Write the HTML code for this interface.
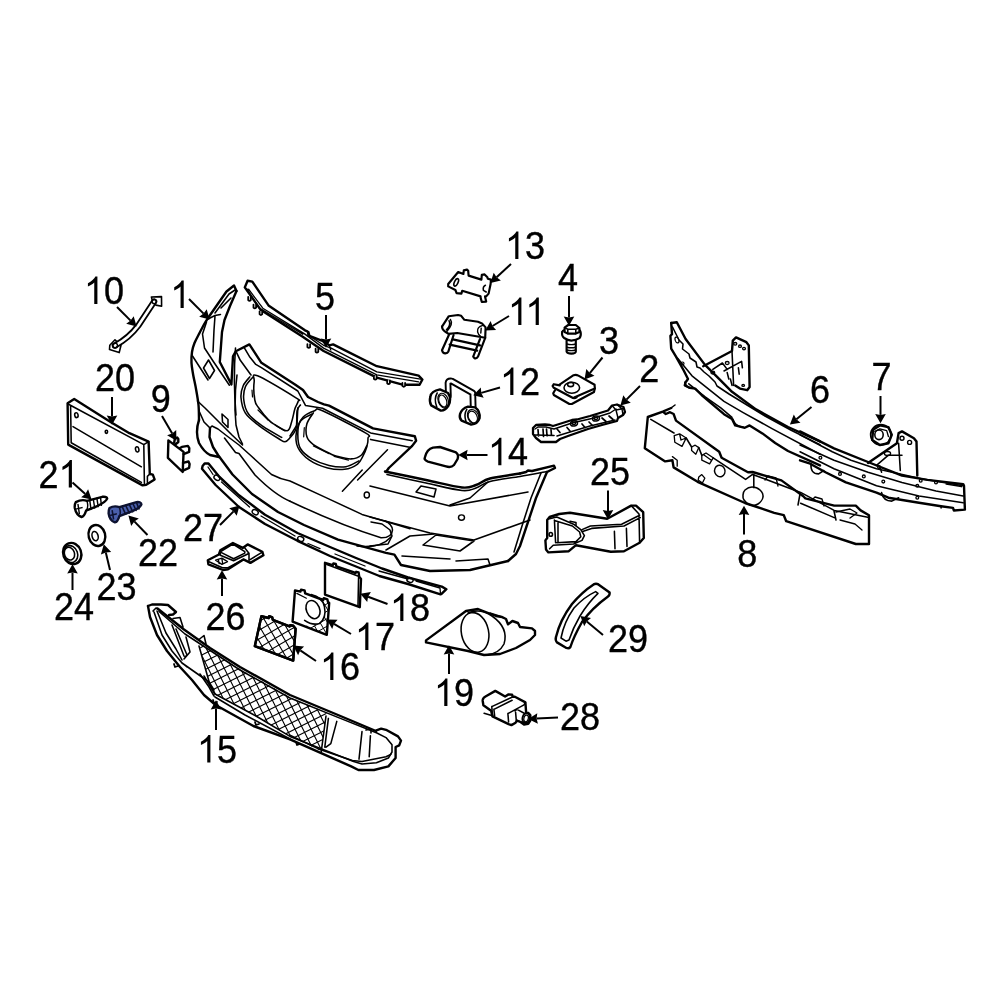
<!DOCTYPE html><html><head><meta charset="utf-8"><style>
html,body{margin:0;padding:0;background:#fff;width:1000px;height:1000px;overflow:hidden}
svg{display:block;filter:blur(0.35px)}
text{font-family:"Liberation Sans",sans-serif;font-size:36px;fill:#000;stroke:#000;stroke-width:0.35px}
</style></head><body>
<svg width="1000" height="1000" viewBox="0 0 1000 1000">
<g fill="none" stroke="#000" stroke-width="1.6" stroke-linejoin="round" stroke-linecap="round">
<path d="M 151.4 297.0 L 161.5 296.6 L 161.6 306.2 L 156.0 305.1 L 153.2 303.6 Z" />
<path d="M 109.8 345.3 L 115.0 339.8 L 121.0 345.3 L 119.2 352.6 L 109.5 349.5 Z" />
<path d="M 154.2 301.6 L 138.2 325.7 Q 129.4 337.6 115.0 345.6" stroke-width="6.24"/>
<path d="M 154.2 301.6 L 138.2 325.7 Q 129.4 337.6 115.0 345.6" stroke="#fff" stroke-width="2.64"/>
<ellipse cx="154.2" cy="301.6" rx="2.1" ry="2.1" transform="rotate(0 154.2 301.6)" stroke-width="1.44"/>
<ellipse cx="115.0" cy="345.6" rx="2.5" ry="2.5" transform="rotate(0 115.0 345.6)" stroke-width="1.44"/>
<path d="M 448.2 284.0 L 458.2 272.0 L 463.4 274.0 L 463.8 270.4 L 467.0 269.6 L 468.2 270.8 L 468.6 275.6 L 481.4 279.6 L 481.8 274.8 L 484.6 274.4 L 487.4 277.2 L 487.8 278.8 L 491.0 279.6 L 490.6 284.0 L 488.6 293.6 L 486.2 296.4 L 485.0 296.4 L 486.2 301.6 L 481.8 302.0 L 480.6 297.6 L 480.6 296.4 L 462.2 290.8 L 461.4 293.6 L 456.6 293.2 L 455.4 290.0 L 448.2 286.4 Z" stroke-width="2.16"/>
<ellipse cx="456.2" cy="282.4" rx="1.8" ry="4.0" transform="rotate(25 456.2 282.4)" stroke-width="1.56"/>
<path d="M 485.4 285.2 Q 482.6 286.4 483.4 290.4 L 486.2 292.0" stroke-width="1.56"/>
<path d="M 442.0 326.6 L 448.8 316.2 L 458.0 315.0 L 461.2 315.8 L 464.4 319.8 L 478.0 321.8 L 482.0 323.4 L 485.6 327.4 L 485.2 337.8 L 478.0 356.6 Q 476.8 359.0 474.4 358.2 L 473.2 356.6 L 480.0 339.0" stroke-width="2.16"/>
<path d="M 442.0 326.6 Q 442.0 330.6 448.4 333.8 L 457.2 333.0 L 485.2 337.8" stroke-width="2.16"/>
<path d="M 449.2 334.2 L 442.0 350.2 Q 442.8 353.4 445.2 353.4 Q 447.6 353.0 448.4 351.4 L 453.6 335.0" stroke-width="2.16"/>
<path d="M 452.8 339.4 L 480.0 345.4 M 449.6 344.6 L 477.2 350.6" stroke-width="2.16"/>
<path d="M 450.4 319.4 Q 453.6 324.2 446.8 331.4 M 449.0 320.6 Q 451.2 325.0 446.4 329.8" stroke-width="1.44"/>
<path d="M 482.8 325.4 Q 476.8 327.0 477.6 331.8 Q 478.4 335.0 480.4 336.2 M 481.2 328.2 L 480.8 333.0" stroke-width="1.44"/>
<path d="M 562.2 332.0 Q 561.4 336.0 564.2 338.0 Q 567.8 340.4 571.4 340.6 Q 576.2 340.4 579.4 338.2 Q 581.4 336.0 580.6 332.0 Q 580.2 330.4 579.4 330.0" stroke-width="2.16"/>
<path d="M 562.2 332.0 Q 562.6 330.4 564.6 330.0" stroke-width="2.16"/>
<path d="M 564.6 327.6 L 568.2 325.0 L 575.8 325.0 L 579.4 328.0 L 579.4 332.0 L 575.8 333.6 L 567.8 333.6 L 564.6 332.0 Z" stroke-width="2.16" fill="#fff"/>
<path d="M 564.6 327.6 L 567.8 329.2 L 575.8 329.2 L 579.4 328.0 M 567.8 329.2 L 567.8 333.6 M 575.8 329.2 L 575.8 333.6" stroke-width="1.56"/>
<path d="M 566.6 340.6 L 566.6 351.6 Q 567.4 353.6 571.4 353.6 Q 575.8 353.6 575.8 351.6 L 575.8 340.6" stroke-width="2.16"/>
<path d="M 566.8 344.0 Q 571.4 345.2 575.6 344.0 M 566.8 347.2 Q 571.4 348.4 575.6 347.2 M 566.8 350.0 Q 571.4 351.2 575.6 350.0" stroke-width="1.44"/>
<path d="M 559.2 384.8 L 573.6 375.2 Q 576.0 374.4 578.4 375.6 L 594.6 384.8 L 594.8 388.4 L 574.2 397.4" stroke-width="2.16"/>
<path d="M 552.6 386.0 L 553.8 384.2 L 559.8 385.4 M 552.6 386.0 L 553.8 387.8 L 573.0 398.0 Q 574.8 398.4 576.6 397.4" stroke-width="2.16"/>
<path d="M 555.0 390.2 L 553.2 393.2 L 553.8 395.0 L 569.4 404.0 L 571.8 404.0 L 594.0 392.0 L 594.8 388.4" stroke-width="2.16"/>
<ellipse cx="571.8" cy="387.8" rx="7.8" ry="5.4" transform="rotate(0 571.8 387.8)" stroke-width="1.56"/>
<ellipse cx="570.6" cy="384.4" rx="3.0" ry="2.2" transform="rotate(0 570.6 384.4)" stroke-width="1.56"/>
<path d="M 533.0 428.0 L 536.0 425.0 L 545.0 424.5 L 550.0 425.0 L 553.0 426.0 L 572.0 420.0 L 577.0 419.5 L 590.0 416.0 L 608.0 410.5 L 612.0 405.5 L 617.0 404.5 L 623.5 407.0 L 625.0 412.0 L 623.0 415.0 L 618.0 418.0 L 617.0 421.0 L 602.0 425.0 L 588.0 429.0 L 568.0 436.0 L 560.0 439.0 L 556.0 442.0 L 541.0 442.0 L 536.0 438.0 L 533.0 434.0 Z" stroke-width="2.28"/>
<path d="M 535.0 429.0 L 538.0 427.0 L 546.0 427.0 L 554.0 429.0 L 572.0 423.0 L 594.0 418.0 L 610.0 413.0 L 616.0 409.0 M 557.0 436.0 L 570.0 432.0 L 590.0 426.0 L 615.0 420.0 M 612.0 405.5 L 616.0 410.0 L 618.0 418.0 M 617.0 404.5 L 622.0 409.0 L 623.0 415.0 M 616.0 410.0 L 623.5 408.5" stroke-width="1.44"/>
<path d="M 557.0 429.0 L 560.0 432.5 M 567.0 427.5 L 570.0 431.0 M 582.0 424.0 L 585.0 427.5 M 589.0 422.0 L 592.5 425.5 M 602.0 418.0 L 606.0 421.5 M 609.0 416.0 L 613.0 419.5 M 538.0 429.5 L 538.5 436.0 M 543.0 429.0 L 543.5 436.5 M 546.5 429.0 L 547.0 436.0 M 551.0 429.5 L 551.5 435.5 M 535.0 435.0 L 554.0 435.5" stroke-width="1.68"/>
<ellipse cx="574.0" cy="423.5" rx="3.5" ry="2.5" transform="rotate(-10 574.0 423.5)" stroke-width="1.44"/>
<ellipse cx="574.0" cy="423.5" rx="1.6" ry="1.1" transform="rotate(-10 574.0 423.5)" stroke-width="1.32"/>
<ellipse cx="596.0" cy="418.5" rx="3.5" ry="2.5" transform="rotate(-10 596.0 418.5)" stroke-width="1.44"/>
<ellipse cx="596.0" cy="418.5" rx="1.6" ry="1.1" transform="rotate(-10 596.0 418.5)" stroke-width="1.32"/>
<path d="M 236.5 291.0 L 234.0 285.5 L 226.5 291.5 L 208.0 318.0" stroke-width="2.4"/>
<path d="M208.0 318.0 C207.3 319.1 205.4 322.0 204.0 324.5 C202.6 327.0 201.1 329.9 199.5 333.0 C197.9 336.1 195.8 339.8 194.5 343.0 C193.2 346.2 192.5 348.7 192.0 352.0 C191.5 355.3 191.3 359.2 191.5 363.0 C191.7 366.8 192.5 370.5 193.2 375.0 C194.0 379.5 195.4 385.0 196.2 390.0 C197.1 395.0 198.0 400.0 198.5 405.0 C199.0 410.0 198.9 417.5 199.0 420.0" stroke-width="2.4"/>
<path d="M 199.0 420.0 Q 195.0 432.0 199.0 443.0 Q 204.0 452.0 210.0 455.0 L 219.0 457.0" stroke-width="2.4"/>
<path d="M 236.5 291.0 L 230.0 306.0 L 224.5 320.0 L 222.0 332.0 L 219.8 362.0 L 231.4 384.4 L 233.0 356.4 L 235.8 351.2 L 249.4 344.4 L 261.4 362.8 L 295.0 384.4 L 303.0 390.0 L 308.0 397.0 L 318.0 402.0 L 324.0 404.3 L 329.0 405.6 L 373.0 428.4 L 414.8 436.2 L 416.1 440.7 L 412.2 445.9 L 388.8 468.0 L 386.0 472.0" stroke-width="2.4"/>
<path d="M 215.0 313.0 L 229.0 294.0 L 235.0 290.0 M 221.0 308.0 L 231.0 298.0 M 208.0 319.0 L 215.0 315.5 L 220.5 314.5 M 206.5 322.0 L 202.5 334.0 L 204.5 348.0 L 213.0 361.0 L 229.4 385.2 M 215.0 316.0 L 214.0 330.0 L 213.0 352.0 M 192.5 356.0 L 208.0 380.0" stroke-width="1.56"/>
<path d="M 203.5 368.0 L 208.5 360.0 L 214.5 370.5 L 209.5 378.5 Z" stroke-width="1.56"/>
<path d="M 222.0 414.0 L 228.0 419.5 L 228.0 427.5 L 222.5 422.0 Z" stroke-width="1.56"/>
<path d="M 197.5 401.0 L 205.0 408.0 L 214.0 417.0 L 223.0 426.0 L 232.0 435.0 L 242.5 445.0 M 199.5 412.0 L 204.0 422.0 L 210.0 428.0" stroke-width="1.56"/>
<path d="M 244.2 347.6 L 249.4 356.4 L 255.8 364.4 L 261.4 367.6 L 297.8 391.0 L 305.6 405.6 L 322.5 408.2 L 370.6 432.9 L 412.2 440.7" stroke-width="1.56"/>
<path d="M 236.6 352.6 L 240.3 360.3 L 251.0 375.0 M 370.6 439.4 L 409.6 447.2" stroke-width="1.56"/>
<path d="M 237.0 375.0 L 235.5 390.0 L 235.0 410.0 L 236.0 425.0 L 239.0 437.0 L 242.5 444.0" stroke-width="1.56"/>
<path d="M 235.5 348.0 Q 233.0 380.0 236.0 415.0" stroke-width="1.56"/>
<path d="M249.8 376.9 C248.7 378.4 244.7 382.2 243.2 385.7 C241.7 389.2 240.6 393.2 241.0 397.8 C241.4 402.4 242.5 408.6 245.4 413.2 C248.3 417.8 253.1 421.1 258.6 425.3 C264.1 429.5 274.0 435.8 278.4 438.5 C282.8 441.2 283.2 441.8 285.0 441.8 C286.8 441.8 287.6 440.7 289.4 438.5 C291.2 436.3 294.7 433.2 296.0 428.6 C297.3 424.0 296.4 414.9 297.1 411.0 C297.8 407.1 299.8 406.0 300.4 405.0" stroke-width="1.56"/>
<path d="M253.1 376.9 C251.8 378.5 247.0 382.9 245.4 386.8 C243.8 390.7 243.2 395.4 243.8 400.0 C244.3 404.6 245.5 409.9 248.7 414.3 C251.9 418.7 257.5 422.5 263.0 426.4 C268.5 430.2 278.6 435.6 281.7 437.4" stroke-width="1.56"/>
<path d="M257.5 375.8 C250.5 373.1 254.7 377.3 254.2 381.3 C253.7 385.3 254.0 395.6 254.8 400.0 C255.5 404.4 256.3 404.4 258.6 407.7 C260.9 411.0 265.9 417.1 268.5 419.8 C271.1 422.6 270.9 422.4 274.0 424.2 C277.1 426.0 284.3 431.2 287.2 430.8 C290.1 430.4 290.3 425.7 291.6 422.0 C292.9 418.3 293.8 412.3 294.9 408.8 C296.0 405.3 298.0 402.9 298.2 401.1 C298.4 399.3 302.8 402.0 296.0 397.8 C289.2 393.6 264.5 378.6 257.5 375.8 Z" stroke-width="1.56"/>
<path d="M 252.0 390.0 L 252.5 397.0 M 258.0 410.0 L 268.0 420.0 M 275.0 425.0 L 285.0 431.0" stroke-width="1.2"/>
<path d="M314.7 410.8 C311.4 411.9 306.0 413.8 303.0 417.3 C300.0 420.8 297.4 426.6 296.5 431.6 C295.6 436.6 295.6 442.4 297.8 447.2 C300.0 452.0 304.5 456.7 309.5 460.2 C314.5 463.7 321.8 466.5 327.7 468.0 C333.6 469.5 339.6 469.9 344.6 469.3 C349.6 468.7 354.6 466.3 357.6 464.1 C360.6 461.9 361.3 459.1 362.8 456.3 C364.3 453.5 365.8 450.2 366.7 447.2 C367.6 444.2 368.2 440.5 368.0 438.1 C367.8 435.7 373.0 437.4 365.4 432.9 C357.8 428.3 330.9 414.5 322.5 410.8 C314.1 407.1 317.9 409.7 314.7 410.8 Z" stroke-width="1.56"/>
<path d="M312.1 414.0 C310.2 415.2 302.8 417.8 300.4 421.2 C298.0 424.6 297.8 429.6 297.8 434.2 C297.8 438.8 298.0 444.4 300.4 448.5 C302.8 452.6 307.3 456.1 312.1 458.9 C316.9 461.7 323.4 464.1 329.0 465.4 C334.6 466.7 340.9 467.4 345.9 466.7 C350.9 465.9 356.7 461.9 358.9 460.9" stroke-width="1.56"/>
<path d="M313.4 412.8 C312.3 414.6 308.0 419.8 306.9 423.8 C305.8 427.8 305.8 433.3 306.9 436.8 C308.0 440.3 309.5 441.8 313.4 444.6 C317.3 447.4 326.4 451.8 330.3 453.7 C334.2 455.6 333.3 455.4 336.8 456.3 C340.3 457.2 347.0 459.1 351.1 458.9 C355.2 458.7 358.9 457.2 361.5 455.0 C364.1 452.8 365.8 447.4 366.7 445.9" stroke-width="1.56"/>
<path d="M 304.3 427.7 L 303.7 436.8 M 313.4 445.9 L 329.0 453.7 M 334.2 456.3 L 348.5 460.2" stroke-width="1.2"/>
<path d="M 297.8 408.0 L 297.0 425.0 L 290.0 436.0" stroke-width="1.56"/>
<path d="M385.0 471.5 C391.8 472.9 413.2 477.3 426.0 480.0 C438.8 482.7 453.7 486.7 462.0 487.5 C470.3 488.3 471.3 486.5 476.0 485.0 C480.7 483.5 482.7 480.4 490.0 478.5 C497.3 476.6 515.0 474.3 520.0 473.5" stroke-width="2.4"/>
<path d="M 520.0 473.5 L 526.0 472.0 L 528.0 470.5 L 532.0 471.0 L 554.0 465.6 L 555.0 468.0 L 547.0 472.0" stroke-width="2.4"/>
<path d="M387.0 474.5 C393.5 475.9 413.5 480.3 426.0 483.0 C438.5 485.7 453.7 489.7 462.0 490.5 C470.3 491.3 471.3 489.5 476.0 488.0 C480.7 486.5 482.7 483.4 490.0 481.5 C497.3 479.6 510.5 478.1 520.0 476.5 C529.5 474.9 542.5 472.4 547.0 471.6" stroke-width="1.56"/>
<path d="M 547.0 472.0 L 536.0 498.0 L 526.0 528.0 L 520.0 546.0 L 516.0 554.0 L 508.0 561.0" stroke-width="2.4"/>
<path d="M 541.0 473.0 L 531.0 498.0 L 522.0 526.0 L 514.0 552.0" stroke-width="1.56"/>
<path d="M 370.0 486.0 L 450.0 506.0 L 528.0 492.0 M 450.0 505.0 L 470.0 498.0 L 488.0 482.0" stroke-width="1.56"/>
<path d="M 416.0 492.0 L 421.0 486.0 L 436.0 489.0 L 434.0 497.0 Z" stroke-width="1.56"/>
<ellipse cx="366.8" cy="495.0" rx="2.6" ry="3.0" transform="rotate(0 366.8 495.0)" stroke-width="1.44"/>
<ellipse cx="461.5" cy="517.6" rx="3.0" ry="2.7" transform="rotate(0 461.5 517.6)" stroke-width="1.44"/>
<path d="M 370.0 517.0 L 430.0 533.0 L 474.0 540.0 L 530.0 520.0" stroke-width="1.56"/>
<path d="M 357.6 480.0 L 387.5 449.8 M 342.4 491.2 L 362.2 470.0" stroke-width="1.56"/>
<path d="M 371.0 522.0 L 382.0 524.0 L 390.0 530.0 L 392.0 536.0 L 388.0 544.0 L 370.0 546.0" stroke-width="1.56"/>
<path d="M 386.0 550.0 L 410.0 536.0 L 434.0 534.0 M 423.0 545.0 L 436.0 535.0 L 474.0 541.0 L 460.0 551.0 Z M 402.0 556.0 L 450.0 559.0 M 456.0 561.0 L 488.0 559.0 L 490.0 565.0" stroke-width="1.56"/>
<path d="M 210.0 428.0 L 212.0 426.0 L 218.0 429.0 L 227.0 436.0 L 239.0 445.0 Q 258.0 462.0 271.5 474.5 Q 280.0 479.0 290.0 481.0 L 326.0 497.6 L 362.0 514.4 L 386.0 521.6 L 410.0 528.8" stroke-width="1.56"/>
<path d="M 290.0 501.2 Q 340.0 525.0 381.0 537.8 Q 392.0 538.0 392.5 530.0 Q 392.0 524.0 385.0 521.0" stroke-width="1.56"/>
<path d="M 224.5 438.0 L 235.5 452.5 L 239.0 453.5 L 255.0 475.0 Q 275.0 495.0 290.0 501.2" stroke-width="1.56"/>
<path d="M 357.0 546.0 Q 380.0 549.0 391.0 537.0" stroke-width="1.56"/>
<path d="M 210.0 428.0 L 209.5 437.0 L 213.0 447.0 L 218.0 455.0 L 232.5 474.5 L 252.0 494.0 L 278.0 512.0 L 304.0 525.0 L 338.0 539.6 L 386.0 552.8 L 394.4 554.6 L 401.0 565.0 L 430.0 571.0 L 470.0 570.0 L 508.0 561.0" stroke-width="2.4"/>
<path d="M 448.4 396.2 L 448.0 383.0 Q 448.4 380.6 451.6 381.0 L 472.8 393.0 L 473.2 407.8" stroke-width="6.72"/>
<path d="M 448.4 396.2 L 448.0 383.0 Q 448.4 380.6 451.6 381.0 L 472.8 393.0 L 473.2 407.8" stroke="#fff" stroke-width="2.88"/>
<path d="M 430.4 396.6 Q 431.2 391.0 440.0 389.4 L 448.0 393.0 Q 452.0 399.0 448.4 405.8 Q 444.8 411.0 440.8 410.6 L 431.2 405.4 Q 429.0 401.4 430.4 396.6 Z" fill="#fff" stroke-width="2.4"/>
<ellipse cx="443.2" cy="400.6" rx="5.0" ry="7.6" transform="rotate(-20 443.2 400.6)" stroke-width="1.2"/>
<ellipse cx="442.8" cy="401.0" rx="3.8" ry="6.2" transform="rotate(-20 442.8 401.0)" stroke-width="1.2"/>
<path d="M 437.2 393.0 Q 433.6 399.0 436.8 407.0" stroke-width="1.56"/>
<path d="M 460.0 414.2 Q 461.6 408.6 468.0 406.6 L 475.2 407.4 Q 480.4 411.0 479.6 418.2 Q 477.6 424.2 471.2 424.6 L 461.6 420.6 Q 459.0 418.2 460.0 414.2 Z" fill="#fff" stroke-width="2.4"/>
<ellipse cx="473.2" cy="416.6" rx="5.4" ry="7.4" transform="rotate(-25 473.2 416.6)" stroke-width="1.2"/>
<ellipse cx="472.8" cy="417.0" rx="4.3" ry="6.1" transform="rotate(-25 472.8 417.0)" stroke-width="1.2"/>
<path d="M 466.8 409.4 Q 463.6 414.2 466.0 421.4" stroke-width="1.56"/>
<path d="M 425.0 457.0 Q 427.0 449.0 433.0 447.6 L 440.0 447.0 L 456.0 452.4 Q 459.0 454.4 457.6 459.0 L 454.0 465.0 Q 451.0 468.0 446.0 466.4 L 428.0 461.6 Q 423.6 460.0 425.0 457.0 Z" stroke-width="2.4"/>
<path d="M 244.8 287.4 L 247.6 280.7 L 252.3 281.6 L 268.5 305.4 L 304.6 330.1 L 308.4 332.0 L 309.4 335.8 L 321.7 340.6 L 329.3 345.3 L 333.1 344.4 L 376.8 366.2 L 418.6 375.7 L 422.4 379.5 L 419.6 384.8 L 403.4 384.8 L 376.8 377.6 L 323.6 351.0 L 302.7 336.8 L 260.9 310.1 Z" stroke-width="2.4"/>
<path d="M 248.6 289.2 L 262.8 308.2 L 304.6 333.9 L 323.6 348.1 L 376.8 374.8 L 418.6 381.8 M 246.7 288.7 L 259.0 307.7 L 302.7 334.3 M 309.4 335.8 L 323.6 345.3 L 331.2 348.1 L 376.8 371.9 L 420.5 379.1" stroke-width="1.32"/>
<path d="M 307.4 331.1 L 308.0 335.8 M 329.3 345.3 L 330.8 350.1" stroke-width="1.32"/>
<path d="M 248.2 297.0 L 248.2 300.1 Q 249.5 301.6 250.8 300.1 L 250.8 297.0" stroke-width="1.8" fill="#fff"/>
<path d="M 253.5 304.6 L 253.5 307.7 Q 254.8 309.2 256.1 307.7 L 256.1 304.6" stroke-width="1.8" fill="#fff"/>
<path d="M 259.6 311.3 L 259.6 314.3 Q 260.9 315.9 262.2 314.3 L 262.2 311.3" stroke-width="1.8" fill="#fff"/>
<path d="M 307.4 344.2 L 307.4 347.2 Q 308.8 348.7 310.1 347.2 L 310.1 344.2" stroke-width="1.8" fill="#fff"/>
<path d="M 315.6 348.7 L 315.6 351.8 Q 316.9 353.3 318.3 351.8 L 318.3 348.7" stroke-width="1.8" fill="#fff"/>
<path d="M 373.9 375.9 L 373.9 378.9 Q 375.3 380.4 376.6 378.9 L 376.6 375.9" stroke-width="1.8" fill="#fff"/>
<path d="M 387.2 380.3 L 387.2 383.3 Q 388.6 384.8 389.9 383.3 L 389.9 380.3" stroke-width="1.8" fill="#fff"/>
<path d="M 402.4 382.9 L 402.4 386.0 Q 403.8 387.5 405.1 386.0 L 405.1 382.9" stroke-width="1.8" fill="#fff"/>
<path d="M 671.2 323.0 L 676.8 322.2 L 685.6 339.0 L 704.8 364.6 L 717.6 377.4 L 732.0 391.8 L 756.0 409.4 L 788.0 427.0 L 820.0 441.4" stroke-width="2.4"/>
<path d="M 671.2 323.0 L 672.0 334.2 L 670.4 335.8 L 671.2 348.6 L 676.0 356.6 L 684.0 371.0 L 688.0 379.0 L 685.6 382.2 L 684.8 385.4 L 689.6 387.8 L 695.2 388.6 L 701.6 395.0 L 712.8 404.6 L 724.0 414.2 L 732.0 419.0 L 735.2 425.4 L 744.8 427.8 L 749.6 425.4 L 762.4 433.4 L 775.2 443.0 L 788.0 451.0 L 820.0 465.4" stroke-width="2.4"/>
<path d="M 672.5 327.0 L 676.0 334.0 L 679.0 340.0 L 683.0 344.0 L 682.5 349.0 L 689.0 354.0 L 690.0 358.0 L 696.0 362.0 L 697.0 367.0 L 700.0 368.0 L 704.0 372.0 L 709.0 376.0 L 715.0 382.0 L 717.0 386.0 L 723.0 390.0 L 729.0 394.0 L 765.0 416.0 L 791.2 430.2 L 820.0 444.6" stroke-width="1.56"/>
<ellipse cx="682.5" cy="363.5" rx="1.5" ry="1.5" transform="rotate(0 682.5 363.5)" stroke-width="1.2"/>
<ellipse cx="677.0" cy="340.0" rx="1.8" ry="3.0" transform="rotate(-20 677.0 340.0)" stroke-width="1.2"/>
<path d="M 677.6 358.2 L 692.0 375.8 L 708.0 388.6 L 724.0 401.4 L 743.2 412.6 L 772.0 428.6 L 820.0 454.2" stroke-width="1.56"/>
<path d="M 688.8 383.8 L 704.8 396.6 L 720.8 407.8 L 732.0 417.4" stroke-width="1.56"/>
<path d="M 703.2 366.2 L 732.0 351.0 L 732.8 340.6 L 736.0 337.4 L 746.4 342.2 L 748.8 345.4 L 749.6 387.0 L 747.2 390.2 L 740.0 388.6 L 735.2 385.4" stroke-width="2.4"/>
<path d="M 732.0 351.0 L 733.6 385.4 M 712.8 369.4 L 722.4 363.0 L 727.2 369.4 M 724.0 371.0 L 741.6 361.4 L 742.4 367.8 M 727.2 372.6 L 728.8 379.0 M 730.4 379.0 L 732.0 385.4 M 738.4 367.8 L 739.2 374.2" stroke-width="1.56"/>
<ellipse cx="735.2" cy="343.8" rx="1.6" ry="1.3" transform="rotate(0 735.2 343.8)" stroke-width="1.32"/>
<ellipse cx="740.0" cy="346.2" rx="1.4" ry="1.2" transform="rotate(0 740.0 346.2)" stroke-width="1.32"/>
<ellipse cx="744.0" cy="348.6" rx="1.4" ry="1.2" transform="rotate(0 744.0 348.6)" stroke-width="1.32"/>
<ellipse cx="727.2" cy="363.0" rx="1.9" ry="1.5" transform="rotate(0 727.2 363.0)" stroke-width="1.32"/>
<ellipse cx="712.8" cy="372.6" rx="1.9" ry="1.5" transform="rotate(0 712.8 372.6)" stroke-width="1.32"/>
<ellipse cx="743.2" cy="385.4" rx="1.3" ry="1.0" transform="rotate(0 743.2 385.4)" stroke-width="1.32"/>
<path d="M 684.8 382.2 Q 686.4 388.6 692.0 387.8 M 732.8 419.0 Q 735.2 427.0 743.2 427.0" stroke-width="1.56"/>
<path d="M 800.0 431.4 L 834.0 448.4 L 868.0 462.0 L 902.0 475.6 L 927.5 479.9 L 963.2 484.1 L 964.0 485.8 L 964.9 509.6 L 953.9 510.5 L 953.0 507.9 L 941.1 506.2 L 919.0 502.8 L 888.4 497.7 L 876.5 492.6 L 845.9 482.4 L 825.5 472.2 L 810.2 463.7 L 800.0 460.3" stroke-width="2.4"/>
<path d="M 800.0 434.8 L 832.3 451.8 L 851.0 460.3 L 876.5 468.8 L 922.4 479.0 L 963.2 485.8 M 800.0 445.0 L 834.0 460.3 L 868.0 472.2 L 902.0 482.4 L 936.0 490.9 L 963.2 496.0 M 800.0 451.8 L 834.0 468.8 L 876.5 485.8 L 919.0 496.0 L 963.2 502.8" stroke-width="1.56"/>
<path d="M 868.0 462.9 L 896.9 443.3 L 898.6 433.1 L 902.0 431.4 L 913.9 438.2 L 916.5 441.6 L 917.3 475.6" stroke-width="2.4"/>
<path d="M 898.6 443.3 L 900.3 470.5 M 876.5 465.4 L 888.4 455.2 L 902.0 455.2 M 879.9 467.1 L 881.6 472.2" stroke-width="1.56"/>
<ellipse cx="902.0" cy="438.2" rx="2.0" ry="2.0" transform="rotate(0 902.0 438.2)" stroke-width="1.44"/>
<ellipse cx="909.6" cy="442.4" rx="2.0" ry="2.0" transform="rotate(0 909.6 442.4)" stroke-width="1.44"/>
<ellipse cx="887.5" cy="453.5" rx="3.1" ry="2.0" transform="rotate(0 887.5 453.5)" stroke-width="1.32"/>
<ellipse cx="820.4" cy="457.8" rx="1.4" ry="1.4" transform="rotate(0 820.4 457.8)" stroke-width="1.32"/>
<ellipse cx="840.0" cy="473.9" rx="1.4" ry="1.4" transform="rotate(0 840.0 473.9)" stroke-width="1.32"/>
<ellipse cx="863.8" cy="476.4" rx="1.4" ry="1.4" transform="rotate(0 863.8 476.4)" stroke-width="1.32"/>
<ellipse cx="883.3" cy="481.6" rx="1.4" ry="1.4" transform="rotate(0 883.3 481.6)" stroke-width="1.32"/>
<ellipse cx="917.3" cy="485.8" rx="1.4" ry="1.4" transform="rotate(0 917.3 485.8)" stroke-width="1.32"/>
<ellipse cx="917.3" cy="497.7" rx="1.4" ry="1.4" transform="rotate(0 917.3 497.7)" stroke-width="1.32"/>
<ellipse cx="879.0" cy="467.1" rx="1.4" ry="1.4" transform="rotate(0 879.0 467.1)" stroke-width="1.32"/>
<ellipse cx="920.7" cy="480.7" rx="1.4" ry="1.4" transform="rotate(0 920.7 480.7)" stroke-width="1.32"/>
<ellipse cx="936.0" cy="482.4" rx="1.4" ry="1.4" transform="rotate(0 936.0 482.4)" stroke-width="1.32"/>
<path d="M 811.0 463.7 Q 810.2 473.9 818.7 473.9 L 823.8 470.5 M 881.6 492.6 Q 883.3 501.1 891.8 501.1 L 898.6 497.7 M 946.2 484.1 L 961.5 486.6 M 941.1 506.2 L 941.1 507.9" stroke-width="1.56"/>
<path d="M 873.1 429.7 L 879.9 425.4 L 888.4 427.1 L 891.8 434.8 L 888.4 443.3 L 879.9 445.0 L 872.2 439.9 Z" stroke-width="2.4" fill="#fff"/>
<ellipse cx="880.8" cy="434.8" rx="10.2" ry="10.2" transform="rotate(0 880.8 434.8)" stroke-width="1.56"/>
<ellipse cx="879.0" cy="434.8" rx="4.2" ry="4.8" transform="rotate(0 879.0 434.8)" stroke-width="1.56"/>
<path d="M 874.8 431.4 L 879.9 428.9 L 886.7 430.6 L 888.4 436.5" stroke-width="1.32"/>
<path d="M 647.8 417.0 L 662.8 411.6 L 671.2 408.0 M 662.8 411.6 L 665.8 414.0 L 670.0 412.2 L 673.6 414.0 L 676.0 420.6 L 719.2 451.8 L 721.6 457.8 L 748.0 472.2 L 752.6 472.0 L 781.4 480.4 L 803.0 496.0 L 805.4 498.4 L 834.2 505.6 L 855.8 505.6 L 860.6 510.4 L 869.0 515.2 L 869.0 544.0 L 855.8 544.0 L 786.2 521.2 L 783.8 515.2 L 774.2 512.8 L 745.0 503.0 L 697.6 481.8 L 673.6 467.4 L 672.4 460.2 L 665.2 461.4 L 644.8 448.2 L 647.8 417.0 Z" stroke-width="2.4"/>
<path d="M 650.8 419.4 L 674.0 433.0 M 686.2 438.0 L 691.6 447.0 M 698.8 447.6 L 701.8 455.4 M 713.2 457.8 L 745.6 479.4 L 752.6 474.4 L 800.6 492.4 L 834.2 510.4 L 869.0 517.6" stroke-width="1.56"/>
<path d="M 674.2 435.6 L 679.6 433.8 L 686.2 438.0 L 682.0 446.4 L 674.8 442.2 Z M 679.6 434.0 L 681.0 440.0 L 686.0 438.0 M 691.6 447.0 L 695.2 445.2 L 698.8 447.6 L 695.8 454.2 L 691.6 450.6 Z M 701.8 455.4 L 706.0 453.0 L 713.2 457.8 L 709.6 463.8 L 701.8 460.2 Z M 704.0 455.0 L 711.0 460.0" stroke-width="1.32"/>
<ellipse cx="719.8" cy="471.0" rx="5.2" ry="5.8" transform="rotate(-20 719.8 471.0)" stroke-width="1.44"/>
<path d="M 698.8 477.0 L 701.8 474.6 L 704.8 478.2 L 702.4 483.0 L 698.2 480.0 Z M 672.4 456.6 L 677.2 460.2 L 677.2 466.2" stroke-width="1.32"/>
<path d="M 753.8 474.4 L 753.8 487.6 M 800.6 503.2 L 834.2 517.6 M 800.0 494.0 L 798.0 505.0 M 834.0 511.0 L 836.0 520.0 M 671.0 408.0 L 675.0 405.0" stroke-width="1.56"/>
<path d="M745.0 490.0 C746.5 488.7 749.5 487.0 752.0 487.0 C754.5 487.0 758.2 488.3 760.0 490.0 C761.8 491.7 763.3 494.7 763.0 497.0 C762.7 499.3 760.2 502.7 758.0 504.0 C755.8 505.3 752.3 505.7 750.0 505.0 C747.7 504.3 745.2 501.7 744.0 500.0 C742.8 498.3 742.8 496.7 743.0 495.0 C743.2 493.3 743.5 491.3 745.0 490.0 Z" stroke-width="1.56"/>
<path d="M 836.0 512.0 L 850.0 509.0 L 857.0 513.0 L 850.0 518.0 M 840.0 520.0 L 855.0 524.0 L 862.0 530.0" stroke-width="1.32"/>
<path d="M 765.0 480.0 L 768.0 476.0 L 776.0 478.0 L 778.0 486.0 M 812.0 500.0 L 815.0 497.0 L 822.0 499.0 L 824.0 506.0" stroke-width="1.32"/>
<path d="M 547.2 520.0 L 549.6 517.0 L 559.2 514.0 L 570.0 512.8 L 607.2 518.8 L 631.2 505.6 L 636.0 505.6 L 643.2 512.2 L 643.8 538.0 L 639.6 542.8 L 624.0 551.2 L 610.8 551.8 L 576.0 545.2 L 568.8 551.2 L 548.4 552.4 L 546.0 549.4 L 545.4 540.4 L 547.2 538.0 Z" stroke-width="2.4"/>
<path d="M 549.6 518.8 L 556.8 517.0 L 573.6 524.2 L 580.8 529.6 L 584.4 535.6 L 582.0 540.4 L 573.6 544.0 L 553.2 545.2 L 549.6 548.8 M 554.4 520.6 L 572.4 526.0 L 579.6 532.0 L 580.8 536.8 L 576.0 541.6 L 556.8 542.8 M 554.4 520.0 L 555.6 542.8 M 558.0 522.4 L 558.0 541.6" stroke-width="1.56"/>
<path d="M 582.0 529.6 L 590.4 526.0 L 621.6 524.2 L 639.6 515.2 M 582.6 531.4 L 591.6 528.4 L 624.0 526.0 L 640.2 517.6 M 614.4 531.4 L 615.0 548.8 M 626.4 528.4 L 627.0 546.4 M 631.2 505.6 L 639.0 514.0 L 639.6 542.8 M 570.0 521.2 L 576.0 522.4 L 576.0 525.4" stroke-width="1.56"/>
<ellipse cx="550.8" cy="534.4" rx="1.7" ry="1.9" transform="rotate(0 550.8 534.4)" stroke-width="1.56"/>
<path d="M 426.0 640.4 L 466.0 611.0 L 478.0 609.0 L 496.0 616.0 L 502.0 617.0 L 506.0 619.0 L 508.0 624.4 L 512.4 621.0 L 518.0 623.0 L 520.0 627.0 L 532.0 628.4 L 535.0 631.0 L 535.0 635.0 L 530.0 640.0 L 516.0 648.0 L 500.0 654.0 L 484.0 655.0 L 468.0 651.0 L 426.0 642.4 Z" stroke-width="2.4"/>
<ellipse cx="475.0" cy="632.4" rx="13.6" ry="20.0" transform="rotate(-12 475.0 632.4)" stroke-width="1.56"/>
<path d="M 468.0 613.0 Q 480.0 608.0 492.0 616.0 Q 509.0 628.0 504.0 644.0 Q 499.0 654.0 486.0 655.0" stroke-width="1.56"/>
<path d="M 490.0 613.0 Q 500.0 616.0 504.0 618.0" stroke-width="1.56"/>
<path d="M 557.0 642.4 Q 555.0 640.0 556.0 637.0 Q 560.0 620.0 572.0 604.0 Q 582.0 592.0 593.6 584.4 Q 596.0 583.2 598.4 584.4 L 609.6 592.4 Q 610.0 595.0 608.0 596.4 Q 592.0 608.0 582.0 622.0 Q 574.0 636.0 570.4 647.0 Q 569.0 649.0 566.4 648.0 Z" stroke-width="2.4"/>
<path d="M 561.0 638.0 Q 564.0 622.0 574.0 608.0 Q 584.0 597.0 595.6 591.6 L 598.0 593.4 Q 588.0 603.0 580.0 616.0 Q 573.0 628.0 569.0 640.0 L 566.0 641.2 Z" stroke-width="1.56"/>
<path d="M 482.7 701.0 Q 482.4 698.2 485.5 696.5 L 495.3 690.9 L 505.1 696.5 L 508.6 694.4 L 512.1 694.7 L 512.8 696.8 L 514.9 696.8 L 525.4 702.4 L 526.1 712.2 L 528.2 712.9 L 530.3 715.0 L 530.3 720.6 L 528.2 723.8 L 524.0 724.5 L 520.5 722.0 L 517.0 720.6 L 515.6 722.7 L 511.4 725.1 L 508.6 724.1 L 492.5 716.4 L 491.1 710.8 L 483.4 705.2 Z" stroke-width="2.4"/>
<path d="M 491.8 706.6 L 511.4 697.5 L 512.8 696.8 M 493.9 709.4 L 512.1 700.3 M 491.8 706.6 L 492.5 716.4 M 493.9 709.4 L 494.6 715.7 M 507.9 713.6 L 524.0 704.9 L 525.4 702.4 M 507.9 713.6 L 508.6 722.0 M 514.9 710.8 L 517.0 709.4 L 524.7 713.5 M 516.3 720.6 L 515.6 712.2 M 517.0 720.6 L 523.3 722.8 M 484.1 713.2 L 492.5 715.7" stroke-width="1.56"/>
<ellipse cx="526.1" cy="718.1" rx="3.6" ry="4.9" transform="rotate(15 526.1 718.1)" stroke-width="1.92"/>
<ellipse cx="526.1" cy="718.4" rx="2.2" ry="3.4" transform="rotate(15 526.1 718.4)" stroke-width="1.2"/>
<path d="M 207.8 560.2 L 218.9 554.5 L 220.3 550.3 L 232.9 543.0 L 242.7 547.9 L 247.6 544.4 L 262.3 551.7 L 263.4 555.3 L 250.4 562.9 L 243.4 559.4 L 228.0 569.2 L 223.1 570.0 L 208.4 564.4 Z" stroke-width="2.4"/>
<path d="M 220.7 551.7 L 232.9 544.0 L 244.8 551.7 L 244.8 553.1 L 233.6 558.7 L 221.0 552.4 Z M 220.3 553.1 L 220.3 555.2 L 233.6 560.8 L 248.3 553.8 L 248.3 552.4 M 244.1 547.1 L 248.3 552.4 M 249.0 553.1 L 249.0 560.8 M 261.9 552.4 L 249.7 559.8 M 208.4 561.5 L 222.4 567.8 L 228.0 567.8 L 243.4 559.4" stroke-width="1.56"/>
<path d="M 215.6 560.2 L 221.9 558.1 L 227.5 561.6 L 221.9 564.4 Z M 218.4 559.5 L 219.1 563.7 M 221.9 558.8 L 222.6 563.0" stroke-width="1.32"/>
<path d="M 325.0 562.8 L 332.8 565.2 L 333.4 563.4 L 335.8 564.0 L 336.4 566.4 L 355.6 573.0 L 356.2 571.8 L 358.6 572.4 L 359.2 576.6 L 361.0 579.0 L 359.8 607.2 L 325.0 594.6 Z" stroke-width="2.4"/>
<path d="M 326.8 564.6 L 359.2 576.6 M 358.6 576.6 L 358.0 605.4" stroke-width="1.56"/>
<path d="M 295.0 590.4 L 300.4 591.6 L 301.0 589.8 L 304.6 590.4 L 305.2 593.4 L 323.2 600.0 L 323.8 598.2 L 327.4 599.4 L 328.0 602.0 L 329.2 603.0 L 326.8 634.8 L 292.6 621.6 Z" stroke-width="2.4"/>
<ellipse cx="313.0" cy="609.6" rx="6.6" ry="9.4" transform="rotate(-22 313.0 609.6)" stroke-width="1.56"/>
<path d="M 304.6 620.4 Q 312.4 625.8 319.6 623.4 Q 326.8 617.4 324.4 606.6 Q 322.0 597.0 311.2 594.6" stroke-width="1.56"/>
<clipPath id="m1"><path d="M320.8 599.4 L328.6 602.4 L326.8 634.8 L305.2 625.8 L314.8 625.2 L322.0 621.0 L325.0 612.6 L323.8 605.4 Z"/></clipPath><g clip-path="url(#m1)" stroke="#000" stroke-width="1.0"><line x1="331.9" y1="578.1" x2="358.2" y2="623.6"/><line x1="326.3" y1="581.4" x2="352.5" y2="626.8"/><line x1="320.7" y1="584.6" x2="346.9" y2="630.1"/><line x1="315.0" y1="587.9" x2="341.3" y2="633.3"/><line x1="309.4" y1="591.1" x2="335.6" y2="636.6"/><line x1="303.8" y1="594.4" x2="330.0" y2="639.8"/><line x1="298.2" y1="597.6" x2="324.4" y2="643.1"/><line x1="292.5" y1="600.9" x2="318.8" y2="646.3"/><line x1="286.9" y1="604.1" x2="313.1" y2="649.6"/><line x1="281.3" y1="607.4" x2="307.5" y2="652.8"/><line x1="275.6" y1="610.6" x2="301.9" y2="656.1"/><line x1="277.9" y1="602.1" x2="323.4" y2="575.8"/><line x1="281.2" y1="607.7" x2="326.6" y2="581.5"/><line x1="284.4" y1="613.3" x2="329.9" y2="587.1"/><line x1="287.7" y1="619.0" x2="333.1" y2="592.7"/><line x1="290.9" y1="624.6" x2="336.4" y2="598.4"/><line x1="294.2" y1="630.2" x2="339.6" y2="604.0"/><line x1="297.4" y1="635.8" x2="342.9" y2="609.6"/><line x1="300.7" y1="641.5" x2="346.1" y2="615.2"/><line x1="303.9" y1="647.1" x2="349.4" y2="620.9"/><line x1="307.2" y1="652.7" x2="352.6" y2="626.5"/><line x1="310.4" y1="658.4" x2="355.9" y2="632.1"/></g>
<path d="M 296.8 593.4 L 306.4 598.2" stroke-width="1.2"/>
<path d="M 261.4 616.2 L 268.6 618.0 L 269.2 616.2 L 272.2 617.4 L 272.8 619.8 L 289.6 626.4 L 290.2 625.2 L 293.2 625.8 L 295.6 628.8 L 293.2 660.6 L 254.8 646.2 Z" stroke-width="2.4"/>
<clipPath id="m2"><path d="M261.4 616.2 L272.8 619.8 L295.6 628.8 L293.2 660.6 L254.8 646.2 Z"/></clipPath><g clip-path="url(#m2)" stroke="#000" stroke-width="1.1"><line x1="290.5" y1="589.0" x2="325.7" y2="649.8"/><line x1="284.0" y1="592.8" x2="319.1" y2="653.6"/><line x1="277.4" y1="596.6" x2="312.5" y2="657.4"/><line x1="270.8" y1="600.4" x2="305.9" y2="661.2"/><line x1="264.2" y1="604.2" x2="299.4" y2="665.0"/><line x1="257.6" y1="608.0" x2="292.8" y2="668.8"/><line x1="251.0" y1="611.8" x2="286.2" y2="672.6"/><line x1="244.5" y1="615.6" x2="279.6" y2="676.4"/><line x1="237.9" y1="619.4" x2="273.0" y2="680.2"/><line x1="231.3" y1="623.2" x2="266.4" y2="684.0"/><line x1="224.7" y1="627.0" x2="259.9" y2="687.8"/><line x1="225.8" y1="623.1" x2="286.6" y2="587.9"/><line x1="229.6" y1="629.6" x2="290.4" y2="594.5"/><line x1="233.4" y1="636.2" x2="294.2" y2="601.1"/><line x1="237.2" y1="642.8" x2="298.0" y2="607.7"/><line x1="241.0" y1="649.4" x2="301.8" y2="614.2"/><line x1="244.8" y1="656.0" x2="305.6" y2="620.8"/><line x1="248.6" y1="662.6" x2="309.4" y2="627.4"/><line x1="252.4" y1="669.1" x2="313.2" y2="634.0"/><line x1="256.2" y1="675.7" x2="317.0" y2="640.6"/><line x1="260.0" y1="682.3" x2="320.8" y2="647.2"/><line x1="263.8" y1="688.9" x2="324.6" y2="653.7"/></g>
<path d="M 261.4 616.2 L 268.6 618.0 L 269.2 616.2 L 272.2 617.4 L 272.8 619.8 L 289.6 626.4 L 290.2 625.2 L 293.2 625.8 L 295.6 628.8 L 293.2 660.6 L 254.8 646.2 Z" stroke-width="2.4"/>
<clipPath id="m3"><path d="M199.0 643.0 L240.0 669.0 L290.0 697.0 L326.5 712.5 L321.0 751.0 L290.0 736.5 L256.0 716.5 L215.0 694.5 L210.0 685.0 Z"/></clipPath><g clip-path="url(#m3)" stroke="#000" stroke-width="1.1"><line x1="306.8" y1="575.9" x2="386.1" y2="734.3"/><line x1="300.4" y1="579.1" x2="379.7" y2="737.5"/><line x1="293.9" y1="582.4" x2="373.2" y2="740.7"/><line x1="287.5" y1="585.6" x2="366.8" y2="743.9"/><line x1="281.0" y1="588.8" x2="360.3" y2="747.2"/><line x1="274.6" y1="592.0" x2="353.9" y2="750.4"/><line x1="268.2" y1="595.3" x2="347.5" y2="753.6"/><line x1="261.7" y1="598.5" x2="341.0" y2="756.8"/><line x1="255.3" y1="601.7" x2="334.6" y2="760.1"/><line x1="248.9" y1="604.9" x2="328.1" y2="763.3"/><line x1="242.4" y1="608.2" x2="321.7" y2="766.5"/><line x1="236.0" y1="611.4" x2="315.3" y2="769.7"/><line x1="229.5" y1="614.6" x2="308.8" y2="773.0"/><line x1="223.1" y1="617.8" x2="302.4" y2="776.2"/><line x1="216.7" y1="621.0" x2="296.0" y2="779.4"/><line x1="210.2" y1="624.3" x2="289.5" y2="782.6"/><line x1="203.8" y1="627.5" x2="283.1" y2="785.8"/><line x1="197.4" y1="630.7" x2="276.6" y2="789.1"/><line x1="190.9" y1="633.9" x2="270.2" y2="792.3"/><line x1="184.5" y1="637.2" x2="263.8" y2="795.5"/><line x1="178.0" y1="640.4" x2="257.3" y2="798.7"/><line x1="171.6" y1="643.6" x2="250.9" y2="802.0"/><line x1="165.2" y1="646.8" x2="244.5" y2="805.2"/><line x1="158.7" y1="650.1" x2="238.0" y2="808.4"/><line x1="152.3" y1="653.3" x2="231.6" y2="811.6"/><line x1="145.8" y1="656.5" x2="225.1" y2="814.9"/><line x1="139.4" y1="659.7" x2="218.7" y2="818.1"/><line x1="141.7" y1="653.0" x2="300.0" y2="573.7"/><line x1="144.9" y1="659.4" x2="303.2" y2="580.1"/><line x1="148.1" y1="665.8" x2="306.5" y2="586.5"/><line x1="151.3" y1="672.3" x2="309.7" y2="593.0"/><line x1="154.6" y1="678.7" x2="312.9" y2="599.4"/><line x1="157.8" y1="685.1" x2="316.1" y2="605.8"/><line x1="161.0" y1="691.6" x2="319.4" y2="612.3"/><line x1="164.2" y1="698.0" x2="322.6" y2="618.7"/><line x1="167.5" y1="704.5" x2="325.8" y2="625.2"/><line x1="170.7" y1="710.9" x2="329.0" y2="631.6"/><line x1="173.9" y1="717.3" x2="332.3" y2="638.0"/><line x1="177.1" y1="723.8" x2="335.5" y2="644.5"/><line x1="180.4" y1="730.2" x2="338.7" y2="650.9"/><line x1="183.6" y1="736.6" x2="341.9" y2="657.4"/><line x1="186.8" y1="743.1" x2="345.1" y2="663.8"/><line x1="190.0" y1="749.5" x2="348.4" y2="670.2"/><line x1="193.2" y1="756.0" x2="351.6" y2="676.7"/><line x1="196.5" y1="762.4" x2="354.8" y2="683.1"/><line x1="199.7" y1="768.8" x2="358.0" y2="689.5"/><line x1="202.9" y1="775.3" x2="361.3" y2="696.0"/><line x1="206.1" y1="781.7" x2="364.5" y2="702.4"/><line x1="209.4" y1="788.2" x2="367.7" y2="708.9"/><line x1="212.6" y1="794.6" x2="370.9" y2="715.3"/><line x1="215.8" y1="801.0" x2="374.2" y2="721.7"/><line x1="219.0" y1="807.5" x2="377.4" y2="728.2"/><line x1="222.3" y1="813.9" x2="380.6" y2="734.6"/><line x1="225.5" y1="820.3" x2="383.8" y2="741.0"/></g>
<path d="M 148.0 606.0 L 152.0 604.5 L 161.0 604.5 L 168.0 605.0 L 176.0 612.0 L 173.0 614.5 L 169.0 615.0" stroke-width="2.4"/>
<path d="M 148.0 606.0 L 150.0 617.0 L 157.0 635.0 L 167.0 651.0 L 180.0 667.0 L 192.0 680.0 L 204.0 695.0 L 215.6 705.0 L 253.4 726.0 L 290.0 739.4 L 351.2 766.4 L 358.4 770.0 L 374.0 770.0 L 388.4 766.4 L 395.6 758.0 L 395.6 747.0 L 399.2 745.4 L 401.0 740.6 L 398.0 736.4 L 386.0 729.8 L 381.2 728.6 L 376.4 730.4" stroke-width="2.4"/>
<path d="M 157.5 608.5 L 184.0 629.5 L 210.0 648.0 L 240.0 667.0 L 290.0 695.0 L 340.4 716.0 L 376.0 731.0" stroke-width="2.4"/>
<path d="M 159.0 611.5 L 185.0 634.0 L 240.0 670.0 L 290.0 698.0 L 340.4 718.4 L 376.4 732.8 L 386.0 737.6 L 392.0 744.8 L 392.0 752.0 L 388.4 758.0 L 376.4 762.8 L 362.0 764.0 L 353.6 761.6 L 290.0 736.4 L 256.0 716.0 L 215.0 694.0 L 210.0 686.0 L 204.0 676.0" stroke-width="1.56"/>
<path d="M 153.0 611.0 L 156.0 608.0 L 158.0 609.0 M 154.0 612.0 L 162.0 635.0 L 172.0 651.0 L 182.0 663.0 L 209.0 682.0 L 214.0 690.0 M 157.0 611.0 L 166.0 633.0 L 176.0 649.0 L 182.0 660.0 M 182.0 663.0 L 187.0 667.0" stroke-width="1.56"/>
<path d="M 173.0 618.5 L 180.0 617.5 L 183.0 627.0 M 199.0 639.5 L 204.0 635.5 L 206.0 644.0 M 366.0 730.0 L 371.0 729.0 L 371.0 733.0" stroke-width="1.56"/>
<path d="M 172.0 625.0 L 184.0 656.0 M 176.0 629.0 L 187.0 655.0 L 185.0 657.0 M 186.0 637.0 L 190.0 652.0 L 184.0 659.0 M 199.0 646.0 L 210.0 685.0 L 215.0 694.0" stroke-width="1.56"/>
<path d="M 200.0 674.0 L 209.0 687.0 L 214.0 696.0 M 215.0 697.0 L 245.0 715.0 L 290.0 739.0 M 290.0 735.2 L 320.0 749.6 L 352.4 760.4 L 362.0 761.6 L 386.0 756.8 L 390.8 754.4" stroke-width="1.56"/>
<path d="M 326.0 716.0 L 321.2 752.0 M 328.4 718.4 L 324.8 747.2 M 336.8 721.4 L 330.8 743.6 L 326.0 747.2 M 362.0 731.6 L 359.0 759.2 M 370.4 735.8 L 369.2 756.8" stroke-width="1.56"/>
<path d="M 174.0 664.0 L 175.0 667.0 L 178.0 666.0 M 213.0 700.0 L 214.0 703.0 L 217.0 702.0 M 255.0 722.0 L 256.0 725.0 L 259.0 724.0 M 296.0 742.0 L 297.0 745.0 L 300.0 744.0" stroke-width="1.8"/>
<path d="M 67.6 403.2 L 74.2 399.0 L 111.4 422.4 L 129.4 433.2 L 148.6 441.6 L 149.8 474.0 L 152.8 474.6 L 154.6 479.4 L 146.2 484.8 L 142.6 485.4 L 68.2 444.6 Z" stroke-width="2.4"/>
<path d="M 67.6 403.8 L 143.8 444.6 L 148.6 441.6 M 143.8 444.6 L 144.4 483.6 M 70.6 406.2 L 71.2 442.8 L 141.4 482.4 M 73.0 426.6 L 141.4 466.8 M 149.8 474.0 L 147.4 476.4 L 147.4 482.4" stroke-width="1.56"/>
<ellipse cx="76.4" cy="415.2" rx="1.7" ry="2.4" transform="rotate(-10 76.4 415.2)" stroke-width="1.56"/>
<ellipse cx="106.4" cy="431.8" rx="1.2" ry="1.6" transform="rotate(0 106.4 431.8)" stroke-width="1.56"/>
<ellipse cx="137.2" cy="449.4" rx="1.7" ry="2.6" transform="rotate(-10 137.2 449.4)" stroke-width="1.56"/>
<path d="M 168.4 440.4 L 183.6 451.9 L 182.7 472.0 L 167.9 457.9 Z" stroke-width="2.4"/>
<path d="M 174.2 442.6 L 174.8 438.7 L 177.2 437.6 L 178.3 439.0 L 178.3 442.0 L 175.8 444.2 M 180.0 448.1 L 181.9 446.9 L 187.9 445.9 L 189.3 448.1 L 189.1 451.9 L 183.6 454.1 M 183.0 462.9 L 188.5 461.5 L 189.6 464.0 L 189.1 467.9 L 183.0 470.6" stroke-width="2.4"/>
<path d="M 75.8 502.1 Q 81.6 499.0 87.0 500.8 L 102.3 496.8 Q 106.8 496.3 107.2 498.6 Q 105.9 501.7 97.8 505.8 L 86.1 510.7 Q 84.3 516.5 81.6 517.0 Q 76.2 515.2 74.8 508.0 Q 74.4 504.4 75.8 502.1 Z" stroke-width="2.4"/>
<path d="M 87.0 500.8 Q 88.8 508.0 86.1 510.7 M 89.7 499.9 L 91.0 509.4 M 93.3 499.0 L 94.7 508.0 M 96.9 498.3 L 98.2 506.6 M 100.5 497.4 L 101.4 505.3 M 78.0 504.4 L 79.3 513.4 M 76.7 508.9 L 82.0 507.6" stroke-width="1.44"/>
<path d="M 109.5 508.0 Q 114.0 505.3 119.4 507.1 L 136.5 502.1 Q 141.4 501.7 141.4 504.4 Q 139.2 508.9 131.1 511.6 L 119.4 516.1 Q 117.6 522.0 114.9 522.4 Q 109.5 520.6 108.6 513.4 Q 108.6 509.8 109.5 508.0 Z" fill="#4a5fab" stroke="#0d1230" stroke-width="2.4"/>
<path d="M 119.4 507.1 Q 121.2 513.4 119.4 516.1 M 122.1 506.6 L 125.7 514.3 M 125.7 505.5 L 129.3 513.0 M 129.3 504.4 L 132.7 511.8 M 132.9 503.5 L 136.1 510.5 M 136.5 502.6 L 139.0 508.9 M 112.2 510.7 L 113.5 518.8 M 110.8 515.2 L 116.2 513.9" stroke="#0d1230" stroke-width="1.56"/>
<ellipse cx="96.9" cy="535.5" rx="8.3" ry="10.6" transform="rotate(-15 96.9 535.5)" stroke-width="2.4"/>
<ellipse cx="95.1" cy="536.1" rx="3.0" ry="4.7" transform="rotate(-15 95.1 536.1)" stroke-width="1.56"/>
<ellipse cx="72.2" cy="553.5" rx="9.0" ry="10.8" transform="rotate(-20 72.2 553.5)" stroke-width="2.4"/>
<ellipse cx="70.6" cy="554.1" rx="7.0" ry="8.6" transform="rotate(-20 70.6 554.1)" stroke-width="1.56"/>
<ellipse cx="69.5" cy="553.7" rx="5.0" ry="6.5" transform="rotate(-20 69.5 553.7)" stroke-width="1.56"/>
<path d="M 202.6 466.0 L 204.6 463.5 L 208.5 463.5 L 219.5 477.0 L 239.0 495.3 L 265.0 514.8 L 297.5 533.0 L 330.0 547.0 L 356.0 558.0 L 382.0 568.5 L 408.0 577.5 L 441.8 586.6 L 446.4 589.2 L 441.8 593.7 L 440.5 594.4 L 408.0 584.0 L 379.4 576.0 L 356.0 566.5 L 330.0 556.0 L 297.5 540.8 L 265.0 524.0 L 239.0 507.0 L 215.6 485.0 L 202.0 468.7 Z" stroke-width="2.4" fill="#fff"/>
<path d="M 208.0 467.0 L 213.0 474.5 M 221.5 482.0 L 249.5 507.0 M 261.0 516.0 L 295.0 536.0 M 308.0 543.5 L 320.0 548.6 M 335.0 554.0 L 365.0 566.0 M 379.0 571.0 L 408.0 579.0 M 416.0 581.0 L 440.0 588.0 L 440.5 594.0" stroke-width="1.32"/>
<ellipse cx="216.9" cy="477.8" rx="3.2" ry="2.3" transform="rotate(35 216.9 477.8)" stroke-width="1.44"/>
<ellipse cx="255.2" cy="512.2" rx="3.2" ry="2.3" transform="rotate(30 255.2 512.2)" stroke-width="1.44"/>
<ellipse cx="300.7" cy="538.9" rx="3.2" ry="2.3" transform="rotate(20 300.7 538.9)" stroke-width="1.44"/>
<ellipse cx="410.0" cy="580.0" rx="3.2" ry="2.3" transform="rotate(15 410.0 580.0)" stroke-width="1.44"/>

</g>
<g stroke="#000" stroke-width="2" fill="#000">
<line x1="117.0" y1="307.0" x2="130.6" y2="320.6"/><polygon stroke="none" points="136.6,326.6 126.2,323.7 130.6,320.6 133.7,316.2"/><line x1="189.0" y1="299.0" x2="203.6" y2="313.6"/><polygon stroke="none" points="209.6,319.6 199.2,316.7 203.6,313.6 206.7,309.2"/><line x1="112.0" y1="397.0" x2="112.0" y2="416.4"/><polygon stroke="none" points="112.0,424.8 106.7,415.4 112.0,416.4 117.3,415.4"/><line x1="162.0" y1="416.0" x2="172.2" y2="433.4"/><polygon stroke="none" points="176.4,440.7 167.1,435.2 172.2,433.4 176.2,429.9"/><line x1="326.0" y1="315.0" x2="326.0" y2="339.4"/><polygon stroke="none" points="326.0,347.8 320.7,338.4 326.0,339.4 331.3,338.4"/><line x1="511.0" y1="264.0" x2="496.6" y2="277.3"/><polygon stroke="none" points="490.4,283.0 493.7,272.8 496.6,277.3 500.9,280.6"/><line x1="569.0" y1="296.0" x2="569.0" y2="317.4"/><polygon stroke="none" points="569.0,325.8 563.7,316.4 569.0,317.4 574.3,316.4"/><line x1="509.0" y1="316.0" x2="492.5" y2="326.0"/><polygon stroke="none" points="485.3,330.4 490.6,321.0 492.5,326.0 496.1,330.1"/><line x1="602.5" y1="357.5" x2="589.8" y2="373.1"/><polygon stroke="none" points="584.5,379.6 586.3,369.0 589.8,373.1 594.5,375.7"/><line x1="500.0" y1="387.5" x2="481.3" y2="392.9"/><polygon stroke="none" points="473.2,395.2 480.8,387.5 481.3,392.9 483.7,397.7"/><line x1="640.0" y1="386.0" x2="626.4" y2="399.6"/><polygon stroke="none" points="620.4,405.6 623.3,395.2 626.4,399.6 630.8,402.7"/><line x1="487.5" y1="455.0" x2="466.6" y2="455.0"/><polygon stroke="none" points="458.2,455.0 467.6,449.7 466.6,455.0 467.6,460.3"/><line x1="811.5" y1="407.0" x2="796.4" y2="419.2"/><polygon stroke="none" points="789.9,424.5 793.8,414.5 796.4,419.2 800.5,422.7"/><line x1="880.5" y1="396.0" x2="880.5" y2="414.9"/><polygon stroke="none" points="880.5,423.3 875.2,413.9 880.5,414.9 885.8,413.9"/><line x1="744.0" y1="534.5" x2="744.0" y2="514.1"/><polygon stroke="none" points="744.0,505.7 749.3,515.1 744.0,514.1 738.7,515.1"/><line x1="72.5" y1="482.5" x2="85.3" y2="493.9"/><polygon stroke="none" points="91.6,499.5 81.1,497.2 85.3,493.9 88.1,489.3"/><line x1="147.5" y1="535.0" x2="134.3" y2="521.4"/><polygon stroke="none" points="128.4,515.4 138.8,518.5 134.3,521.4 131.2,525.9"/><line x1="110.0" y1="570.0" x2="105.8" y2="552.4"/><polygon stroke="none" points="103.8,544.2 111.2,552.1 105.8,552.4 100.9,554.6"/><line x1="72.5" y1="590.0" x2="72.5" y2="572.6"/><polygon stroke="none" points="72.5,564.2 77.8,573.6 72.5,572.6 67.2,573.6"/><line x1="220.0" y1="525.0" x2="233.6" y2="511.4"/><polygon stroke="none" points="239.6,505.4 236.7,515.8 233.6,511.4 229.2,508.3"/><line x1="222.0" y1="596.0" x2="222.0" y2="578.6"/><polygon stroke="none" points="222.0,570.2 227.3,579.6 222.0,578.6 216.7,579.6"/><line x1="216.0" y1="730.0" x2="216.0" y2="708.6"/><polygon stroke="none" points="216.0,700.2 221.3,709.6 216.0,708.6 210.7,709.6"/><line x1="316.0" y1="661.0" x2="300.3" y2="650.3"/><polygon stroke="none" points="293.3,645.5 304.1,646.5 300.3,650.3 298.1,655.2"/><line x1="351.0" y1="634.0" x2="334.0" y2="623.9"/><polygon stroke="none" points="326.8,619.6 337.6,619.8 334.0,623.9 332.2,629.0"/><line x1="387.5" y1="604.0" x2="368.1" y2="596.7"/><polygon stroke="none" points="360.3,593.7 370.9,592.1 368.1,596.7 367.2,602.0"/><line x1="608.0" y1="490.6" x2="608.0" y2="511.0"/><polygon stroke="none" points="608.0,519.4 602.7,510.0 608.0,511.0 613.3,510.0"/><line x1="603.0" y1="635.0" x2="586.8" y2="621.5"/><polygon stroke="none" points="580.4,616.1 591.0,618.1 586.8,621.5 584.2,626.2"/><line x1="449.0" y1="674.0" x2="449.0" y2="653.6"/><polygon stroke="none" points="449.0,645.2 454.3,654.6 449.0,653.6 443.7,654.6"/><line x1="558.0" y1="717.4" x2="536.6" y2="718.6"/><polygon stroke="none" points="528.2,719.0 537.3,713.2 536.6,718.6 537.9,723.8"/>
</g>
<g>
<g transform="translate(84,304) scale(1,1.07)"><path transform="translate(0.00,0) scale(0.01758,-0.01758)" d="M763 0 L583 0 L583 1147 Q518 1085 412.5 1023 Q307 961 223 930 L223 1104 Q374 1175 487 1276 Q600 1377 647 1466 L763 1466 Z"/><text x="20.02" y="0">0</text></g><g transform="translate(170.3,308) scale(1,1.07)"><path transform="translate(0.00,0) scale(0.01758,-0.01758)" d="M763 0 L583 0 L583 1147 Q518 1085 412.5 1023 Q307 961 223 930 L223 1104 Q374 1175 487 1276 Q600 1377 647 1466 L763 1466 Z"/></g><g transform="translate(95,391) scale(1,1.07)"><text x="0.00" y="0">2</text><text x="20.02" y="0">0</text></g><g transform="translate(150.7,411.5) scale(1,1.07)"><text x="0.00" y="0">9</text></g><g transform="translate(315,310) scale(1,1.07)"><text x="0.00" y="0">5</text></g><g transform="translate(505,259) scale(1,1.07)"><path transform="translate(0.00,0) scale(0.01758,-0.01758)" d="M763 0 L583 0 L583 1147 Q518 1085 412.5 1023 Q307 961 223 930 L223 1104 Q374 1175 487 1276 Q600 1377 647 1466 L763 1466 Z"/><text x="20.02" y="0">3</text></g><g transform="translate(558,291) scale(1,1.07)"><text x="0.00" y="0">4</text></g><g transform="translate(508,325) scale(1,1.07)"><path transform="translate(0.00,0) scale(0.01758,-0.01758)" d="M763 0 L583 0 L583 1147 Q518 1085 412.5 1023 Q307 961 223 930 L223 1104 Q374 1175 487 1276 Q600 1377 647 1466 L763 1466 Z"/><path transform="translate(17.42,0) scale(0.01758,-0.01758)" d="M763 0 L583 0 L583 1147 Q518 1085 412.5 1023 Q307 961 223 930 L223 1104 Q374 1175 487 1276 Q600 1377 647 1466 L763 1466 Z"/></g><g transform="translate(599,354) scale(1,1.07)"><text x="0.00" y="0">3</text></g><g transform="translate(500,395) scale(1,1.07)"><path transform="translate(0.00,0) scale(0.01758,-0.01758)" d="M763 0 L583 0 L583 1147 Q518 1085 412.5 1023 Q307 961 223 930 L223 1104 Q374 1175 487 1276 Q600 1377 647 1466 L763 1466 Z"/><text x="20.02" y="0">2</text></g><g transform="translate(639.3,382.3) scale(1,1.07)"><text x="0.00" y="0">2</text></g><g transform="translate(488,465.3) scale(1,1.07)"><path transform="translate(0.00,0) scale(0.01758,-0.01758)" d="M763 0 L583 0 L583 1147 Q518 1085 412.5 1023 Q307 961 223 930 L223 1104 Q374 1175 487 1276 Q600 1377 647 1466 L763 1466 Z"/><text x="20.02" y="0">4</text></g><g transform="translate(810,403) scale(1,1.07)"><text x="0.00" y="0">6</text></g><g transform="translate(871.5,389.5) scale(1,1.07)"><text x="0.00" y="0">7</text></g><g transform="translate(737.3,567.2) scale(1,1.07)"><text x="0.00" y="0">8</text></g><g transform="translate(38.5,487.5) scale(1,1.07)"><text x="0.00" y="0">2</text><path transform="translate(20.02,0) scale(0.01758,-0.01758)" d="M763 0 L583 0 L583 1147 Q518 1085 412.5 1023 Q307 961 223 930 L223 1104 Q374 1175 487 1276 Q600 1377 647 1466 L763 1466 Z"/></g><g transform="translate(138,566) scale(1,1.07)"><text x="0.00" y="0">2</text><text x="20.02" y="0">2</text></g><g transform="translate(96.5,600) scale(1,1.07)"><text x="0.00" y="0">2</text><text x="20.02" y="0">3</text></g><g transform="translate(54,620) scale(1,1.07)"><text x="0.00" y="0">2</text><text x="20.02" y="0">4</text></g><g transform="translate(183,541) scale(1,1.07)"><text x="0.00" y="0">2</text><text x="20.02" y="0">7</text></g><g transform="translate(205.5,629.7) scale(1,1.07)"><text x="0.00" y="0">2</text><text x="20.02" y="0">6</text></g><g transform="translate(197,762.5) scale(1,1.07)"><path transform="translate(0.00,0) scale(0.01758,-0.01758)" d="M763 0 L583 0 L583 1147 Q518 1085 412.5 1023 Q307 961 223 930 L223 1104 Q374 1175 487 1276 Q600 1377 647 1466 L763 1466 Z"/><text x="20.02" y="0">5</text></g><g transform="translate(320,680) scale(1,1.07)"><path transform="translate(0.00,0) scale(0.01758,-0.01758)" d="M763 0 L583 0 L583 1147 Q518 1085 412.5 1023 Q307 961 223 930 L223 1104 Q374 1175 487 1276 Q600 1377 647 1466 L763 1466 Z"/><text x="20.02" y="0">6</text></g><g transform="translate(355,650) scale(1,1.07)"><path transform="translate(0.00,0) scale(0.01758,-0.01758)" d="M763 0 L583 0 L583 1147 Q518 1085 412.5 1023 Q307 961 223 930 L223 1104 Q374 1175 487 1276 Q600 1377 647 1466 L763 1466 Z"/><text x="20.02" y="0">7</text></g><g transform="translate(390,621) scale(1,1.07)"><path transform="translate(0.00,0) scale(0.01758,-0.01758)" d="M763 0 L583 0 L583 1147 Q518 1085 412.5 1023 Q307 961 223 930 L223 1104 Q374 1175 487 1276 Q600 1377 647 1466 L763 1466 Z"/><text x="20.02" y="0">8</text></g><g transform="translate(590,485) scale(1,1.07)"><text x="0.00" y="0">2</text><text x="20.02" y="0">5</text></g><g transform="translate(608,651.6) scale(1,1.07)"><text x="0.00" y="0">2</text><text x="20.02" y="0">9</text></g><g transform="translate(434,706) scale(1,1.07)"><path transform="translate(0.00,0) scale(0.01758,-0.01758)" d="M763 0 L583 0 L583 1147 Q518 1085 412.5 1023 Q307 961 223 930 L223 1104 Q374 1175 487 1276 Q600 1377 647 1466 L763 1466 Z"/><text x="20.02" y="0">9</text></g><g transform="translate(560,730) scale(1,1.07)"><text x="0.00" y="0">2</text><text x="20.02" y="0">8</text></g>
</g>
</svg></body></html>
